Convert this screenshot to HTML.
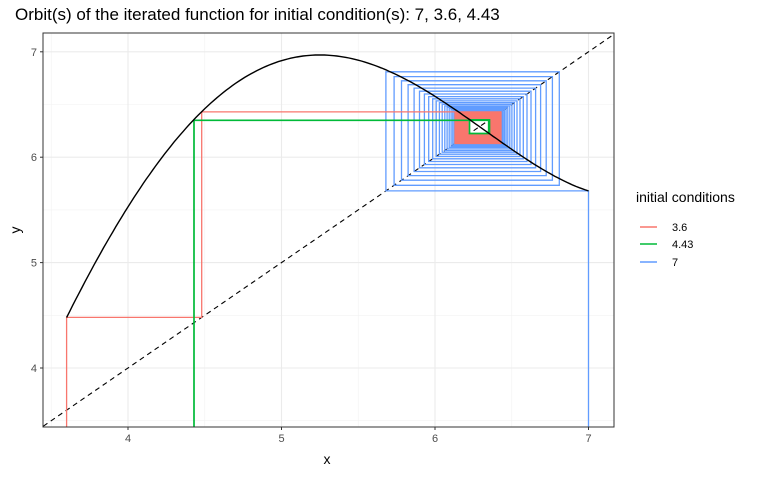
<!DOCTYPE html>
<html><head><meta charset="utf-8"><style>
body{margin:0;background:#fff}
svg text{font-family:"Liberation Sans",sans-serif}
</style></head><body>
<svg id="s" width="768" height="475" xmlns="http://www.w3.org/2000/svg">
<rect width="768" height="475" fill="#fff"/>
<text x="15" y="20" font-size="17" fill="#000">Orbit(s) of the iterated function for initial condition(s): 7, 3.6, 4.43</text>
<defs><clipPath id="cp"><rect x="43" y="33" width="571" height="394"/></clipPath></defs>
<g id="grid"></g>
<g id="data" clip-path="url(#cp)"></g>
<rect x="43" y="33" width="571" height="394" fill="none" stroke="#333" stroke-width="1"/>
<g id="ticks" font-size="11" fill="#4d4d4d"></g>
<text x="327" y="464" font-size="14" text-anchor="middle">x</text>
<text transform="translate(20,230) rotate(-90)" font-size="14" text-anchor="middle">y</text>
<text x="636" y="202" font-size="14">initial conditions</text>
<line x1="640" x2="657" y1="227" y2="227" stroke="#F8766D" stroke-width="1.4"/>
<line x1="640" x2="657" y1="244" y2="244" stroke="#00BA38" stroke-width="1.4"/>
<line x1="640" x2="657" y1="262" y2="262" stroke="#619CFF" stroke-width="1.4"/>
<text x="672" y="231" font-size="11">3.6</text>
<text x="672" y="248" font-size="11">4.43</text>
<text x="672" y="266" font-size="11">7</text>
</svg>
<script>
const NS="http://www.w3.org/2000/svg";
const X=x=>128+(x-4)*153.5, Y=y=>368-(y-4)*105.4;
function el(p,t,a){const e=document.createElementNS(NS,t);for(const k in a)e.setAttribute(k,a[k]);document.getElementById(p).appendChild(e);return e;}
[3.5,4.5,5.5,6.5].forEach(v=>{el('grid','line',{x1:X(v),x2:X(v),y1:33,y2:427,stroke:'#f2f2f2','stroke-width':0.6});el('grid','line',{y1:Y(v),y2:Y(v),x1:43,x2:614,stroke:'#f2f2f2','stroke-width':0.6});});
[4,5,6,7].forEach(v=>{el('grid','line',{x1:X(v),x2:X(v),y1:33,y2:427,stroke:'#ebebeb','stroke-width':1.1});el('grid','line',{y1:Y(v),y2:Y(v),x1:43,x2:614,stroke:'#ebebeb','stroke-width':1.1});
 el('ticks','line',{x1:X(v),x2:X(v),y1:427,y2:430,stroke:'#333'});el('ticks','line',{x1:40,x2:43,y1:Y(v),y2:Y(v),stroke:'#333'});
 const t1=el('ticks','text',{x:X(v),y:442,'text-anchor':'middle'});t1.textContent=v;
 const t2=el('ticks','text',{x:37,y:Y(v)+4,'text-anchor':'end'});t2.textContent=v;});
const F=x=>{const u=x-5.25;return 6.97-0.8332*u*u+0.1397*u*u*u+0.05469*u*u*u*u;};
let d='';for(let x=3.6;x<=7.0001;x+=0.02){d+=(d?'L':'M')+X(x).toFixed(1)+' '+Y(F(x)).toFixed(1);}
el('data','line',{x1:X(3.4),y1:Y(3.4),x2:X(7.2),y2:Y(7.2),stroke:'#000','stroke-width':1.1,'stroke-dasharray':'5,4'});
function draw(xs,col,w){let s='M'+X(xs[0])+' 440';
 for(let i=0;i<xs.length-1;i++){s+='L'+X(xs[i]).toFixed(1)+' '+Y(xs[i+1]).toFixed(1)+'L'+X(xs[i+1]).toFixed(1)+' '+Y(xs[i+1]).toFixed(1);}
 el('data','path',{d:s,fill:'none',stroke:col,'stroke-width':w});}
const p=6.215,q=6.36;
(function(){const xs=[7];const r=0.9;for(let k=0;k<120;k++){xs.push(p-(p-5.68)*Math.pow(r,k),q+(6.81-q)*Math.pow(r,k));}draw(xs,'#619CFF',1.3);})();
(function(){const xs=[3.6,4.48];const r=0.9;for(let k=0;k<100;k++){xs.push(q+(6.43-q)*Math.pow(r,k),p-(p-6.13)*Math.pow(r,k));}draw(xs,'#F8766D',1.3);})();
(function(){const xs=[4.43,6.35];for(let k=0;k<30;k++)xs.push(6.225,6.355);draw(xs,'#00BA38',1.7);})();
el('data','path',{d:d,fill:'none',stroke:'#000','stroke-width':1.4});
</script>
</body></html>
